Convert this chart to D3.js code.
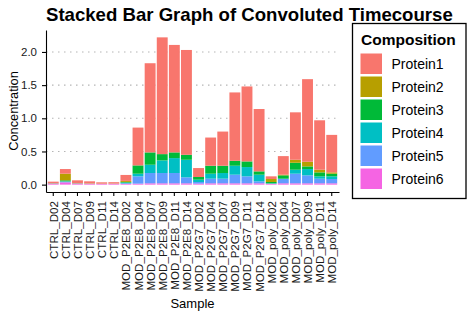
<!DOCTYPE html>
<html>
<head>
<meta charset="utf-8">
<script src="https://cdn.jsdelivr.net/npm/d3@7"></script>
<style>
  html, body { margin: 0; padding: 0; background: #fff; }
  text { font-family: "Liberation Sans", Arial, Helvetica, sans-serif; }
</style>
</head>
<body>
<script>
const categories = [
  "CTRL_D02","CTRL_D04","CTRL_D07","CTRL_D09","CTRL_D11","CTRL_D14",
  "MOD_P2E8_D02","MOD_P2E8_D04","MOD_P2E8_D07","MOD_P2E8_D09","MOD_P2E8_D11","MOD_P2E8_D14",
  "MOD_P2G7_D02","MOD_P2G7_D04","MOD_P2G7_D07","MOD_P2G7_D09","MOD_P2G7_D11","MOD_P2G7_D14",
  "MOD_poly_D02","MOD_poly_D04","MOD_poly_D07","MOD_poly_D09","MOD_poly_D11","MOD_poly_D14"
];
const proteins = ["Protein1","Protein2","Protein3","Protein4","Protein5","Protein6"];
const protein1 = [0.020,0.070,0.040,0.030,0.020,0.020, 0.090,0.570,1.344,1.760,1.620,1.580, 0.135,0.425,0.515,1.030,1.130,0.940, 0.040,0.280,0.715,1.245,0.745,0.565];
const protein2 = [0.005,0.100,0.005,0.005,0.003,0.003, 0.015,0.000,0.000,0.000,0.000,0.000, 0.000,0.000,0.000,0.000,0.000,0.000, 0.045,0.010,0.045,0.070,0.040,0.020];
const protein3 = [0.000,0.015,0.000,0.000,0.000,0.000, 0.010,0.125,0.186,0.095,0.086,0.075, 0.040,0.120,0.110,0.075,0.085,0.050, 0.020,0.050,0.105,0.040,0.060,0.040];
const protein4 = [0.000,0.005,0.000,0.000,0.000,0.000, 0.010,0.040,0.125,0.190,0.225,0.265, 0.035,0.075,0.085,0.135,0.140,0.100, 0.005,0.005,0.060,0.095,0.035,0.040];
const protein5 = [0.005,0.010,0.005,0.003,0.002,0.002, 0.010,0.110,0.155,0.155,0.155,0.090, 0.025,0.070,0.070,0.130,0.105,0.030, 0.005,0.065,0.145,0.120,0.070,0.065];
const protein6 = [0.015,0.035,0.015,0.012,0.010,0.012, 0.011,0.015,0.020,0.020,0.020,0.020, 0.015,0.020,0.020,0.020,0.020,0.020, 0.010,0.020,0.020,0.020,0.020,0.020];
const colors = ["#F8766D","#B79F00","#00BA38","#00BFC4","#619CFF","#F564E3"];
const yTicks = [0, 0.5, 1.0, 1.5, 2.0];

const seriesArrays = [protein1, protein2, protein3, protein4, protein5, protein6];
const table = categories.map((c, i) => {
  const row = { sample: c };
  proteins.forEach((p, k) => row[p] = seriesArrays[k][i]);
  return row;
});

const W = 474, H = 319;
const panel = { left: 46, right: 339, top: 30, bottom: 192 };

const svg = d3.select("body").append("svg").attr("width", W).attr("height", H);

const stackKeys = proteins.slice().reverse();
const stacked = d3.stack().keys(stackKeys)(table);
const maxTotal = d3.max(table, d => d3.sum(proteins, p => d[p]));
const expand = maxTotal * 0.05;

const x = d3.scaleBand().domain(categories)
  .range([panel.left, panel.right]).paddingInner(0.1).paddingOuter(0.15);
const y = d3.scaleLinear().domain([-expand, maxTotal + expand])
  .range([panel.bottom, panel.top]);
const color = d3.scaleOrdinal().domain(proteins).range(colors);

svg.append("text").attr("x", 46).attr("y", 21)
  .attr("font-size", 18.6).attr("font-weight", "bold").attr("fill", "#000")
  .text("Stacked Bar Graph of Convoluted Timecourse");

svg.append("g").selectAll("line").data(yTicks.filter(t => t > 0)).join("line")
  .attr("x1", panel.left).attr("x2", panel.right)
  .attr("y1", d => y(d)).attr("y2", d => y(d))
  .attr("stroke", "#b5b5b5").attr("stroke-width", 1.1)
  .attr("stroke-dasharray", "1.5,4.5");

svg.append("g").selectAll("g").data(stacked).join("g")
  .attr("fill", d => color(d.key))
  .selectAll("rect").data(d => d).join("rect")
  .attr("x", d => x(d.data.sample))
  .attr("width", x.bandwidth())
  .attr("y", d => y(d[1]))
  .attr("height", d => Math.max(0, y(d[0]) - y(d[1])));

const yAxis = svg.append("g").attr("transform", `translate(${panel.left},0)`)
  .call(d3.axisLeft(y).tickValues(yTicks).tickFormat(d3.format(".1f"))
    .tickSize(4).tickSizeOuter(0).tickPadding(5));
yAxis.selectAll("text").attr("font-size", 11.5).attr("fill", "#1a1a1a")
  .attr("font-family", "Liberation Sans, Arial, sans-serif");
yAxis.selectAll("line,path").attr("stroke", "#000").attr("stroke-width", 1.1);

const xAxis = svg.append("g").attr("transform", `translate(0,${panel.bottom})`)
  .call(d3.axisBottom(x).tickSize(4).tickSizeOuter(0).tickPadding(5));
xAxis.selectAll("line,path").attr("stroke", "#000").attr("stroke-width", 1.1);
xAxis.selectAll("text").attr("font-size", 11.6).attr("fill", "#1a1a1a")
  .attr("font-family", "Liberation Sans, Arial, sans-serif")
  .attr("text-anchor", "end")
  .attr("dy", null).attr("y", 0)
  .attr("dominant-baseline", "central")
  .attr("transform", "translate(0,9) rotate(-90)");

svg.append("text").attr("x", (panel.left + panel.right) / 2).attr("y", 308)
  .attr("text-anchor", "middle").attr("font-size", 13).attr("fill", "#000")
  .text("Sample");
svg.append("text")
  .attr("transform", `translate(18,${(panel.top + panel.bottom) / 2}) rotate(-90)`)
  .attr("text-anchor", "middle").attr("font-size", 12.8).attr("fill", "#000")
  .text("Concentration");

const lg = svg.append("g");
lg.append("rect").attr("x", 352.5).attr("y", 23.5).attr("width", 113.5).attr("height", 175)
  .attr("fill", "#fff").attr("stroke", "#000").attr("stroke-width", 1.3);
lg.append("text").attr("x", 361).attr("y", 45).attr("font-size", 15.5)
  .attr("font-weight", "bold").attr("fill", "#000").text("Composition");
const items = lg.selectAll("g.item").data(proteins).join("g").attr("class", "item")
  .attr("transform", (d, i) => `translate(360.5,${53.5 + i * 23})`);
items.append("rect").attr("width", 21.5).attr("height", 20.5)
  .attr("fill", d => color(d));
items.append("text").attr("x", 31).attr("y", 10.5).attr("dominant-baseline", "central")
  .attr("font-size", 14).attr("fill", "#000").text(d => d);
</script>
</body>
</html>
